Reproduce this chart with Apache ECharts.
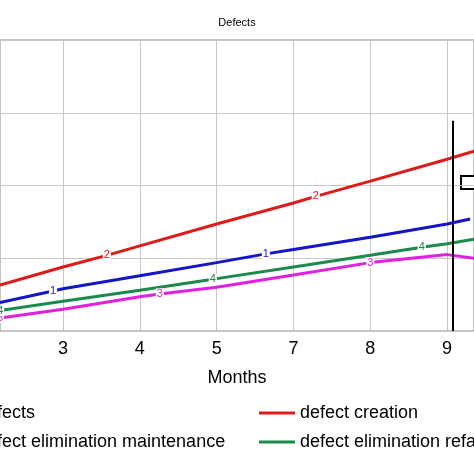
<!DOCTYPE html>
<html><head><meta charset="utf-8">
<script src="https://cdn.jsdelivr.net/npm/echarts@6/dist/echarts.min.js"></script>
<style>html,body{margin:0;padding:0;background:#fff}#c{width:474px;height:474px}</style>
</head><body><div id="c"></div>
<script>
// x positions are month slots (1..6 visible), tick labels below
const monthSlots = [1, 2, 3, 4, 5, 6]
const monthLabels = ['3', '4', '5', '7', '8', '9']
const creationX = [0.18, 1, 1.57, 2, 3, 4, 4.29, 5, 6, 6.35]
const creationY = [0.63, 0.88, 1.04, 1.17, 1.47, 1.76, 1.85, 2.06, 2.36, 2.47]
const defectsX = [0.18, 0.87, 1, 2, 3, 3.64, 4, 5, 6, 6.3]
const defectsY = [0.39, 0.55, 0.58, 0.76, 0.94, 1.06, 1.12, 1.29, 1.47, 1.54]
const elimRX = [0.18, 1, 2, 2.95, 3, 4, 5, 5.67, 6, 6.35]
const elimRY = [0.28, 0.41, 0.56, 0.71, 0.72, 0.88, 1.04, 1.15, 1.2, 1.26]
const elimMX = [0.18, 1, 2, 2.26, 3, 4, 5, 6, 6.35]
const elimMY = [0.18, 0.30, 0.47, 0.51, 0.60, 0.77, 0.94, 1.05, 1.0]
const labelAt = { creation: [2, 6], defects: [1, 5], elimR: [0, 3, 7], elimM: [0, 3, 6] }

const draw = (dom, option) => {
    const chart = echarts.init(dom)
    chart.setOption(option)
    return chart
}

const mk = (name, num, color, xs, ys, marks) => ({
    name,
    type: 'line',
    symbol: 'circle',
    symbolSize: 0.1,
    showSymbol: true,
    lineStyle: { width: 3, color },
    itemStyle: { color },
    label: { show: false },
    z: num === 1 ? 5 : 3,
    data: xs.map((x, i) => {
        const d = { value: [x, ys[i]] }
        if (marks.includes(i)) {
            d.label = { show: true, position: 'inside', formatter: String(num), color, fontSize: 11,
                backgroundColor: '#fff', padding: [0, 1] }
        }
        return d
    }),
})

const series = [
    mk('defects', 1, '#1414c8', defectsX, defectsY, labelAt.defects),
    mk('defect creation', 2, '#e01a1a', creationX, creationY, labelAt.creation),
    mk('defect elimination maintenance', 3, '#e020e0', elimMX, elimMY, labelAt.elimM),
    mk('defect elimination refactoring', 4, '#1c8a4c', elimRX, elimRY, labelAt.elimR),
]
// vertical grid lines at month slots
series[1].markLine = {
    symbol: 'none', silent: true, label: { show: false }, z: 1,
    lineStyle: { color: '#c8c8c8', width: 1, type: 'solid' },
    data: monthSlots.map(x => ({ xAxis: x })),
}
series[0].markLine = {
    symbol: 'none', silent: true, label: { show: false },
    lineStyle: { color: '#000', width: 2, type: 'solid' },
    data: [[{ coord: [6.07, 2.89] }, { coord: [6.07, 0] }]],
}

const legendText = { fontSize: 18, color: '#000', fontFamily: 'Liberation Sans' }

draw(document.getElementById('c'), {
    animation: false,
    title: { text: 'Defects', left: 'center', top: 12,
        textStyle: { fontSize: 11, fontWeight: 'normal', color: '#000', fontFamily: 'Liberation Sans' } },
    grid: { left: 0, right: 0, top: 40, height: 291, show: true, borderColor: '#888', borderWidth: 1 },
    xAxis: {
        type: 'value', min: 0.18, max: 6.35,
        name: 'Months', nameLocation: 'middle', nameGap: 38,
        nameTextStyle: { fontSize: 18, color: '#000', fontFamily: 'Liberation Sans' },
        axisLine: { show: false }, axisTick: { show: false },
        axisLabel: { fontSize: 18, color: '#000', margin: 9, fontFamily: 'Liberation Sans',
            customValues: monthSlots, formatter: v => monthLabels[monthSlots.indexOf(Math.round(v))] ?? '' },
        splitLine: { show: false },
    },
    yAxis: {
        type: 'value', min: 0, max: 4, interval: 1,
        axisLabel: { show: false }, axisLine: { show: false }, axisTick: { show: false },
        splitLine: { lineStyle: { color: '#c8c8c8', width: 1 } },
    },
    legend: [
        { data: ['defects', 'defect elimination maintenance'], orient: 'vertical', left: -63, top: 399,
          itemWidth: 30, itemGap: 11, textStyle: legendText, icon: 'rect', itemHeight: 3 },
        { data: ['defect creation', 'defect elimination refactoring'], orient: 'vertical', left: 254, top: 399,
          itemWidth: 36, itemGap: 11, textStyle: legendText, icon: 'rect', itemHeight: 3 },
    ],
    graphic: [
        { type: 'rect', shape: { x: 461, y: 176, width: 20, height: 13 },
          style: { fill: '#fff', stroke: '#000', lineWidth: 2 } },
    ],
    series,
})
</script></body></html>
